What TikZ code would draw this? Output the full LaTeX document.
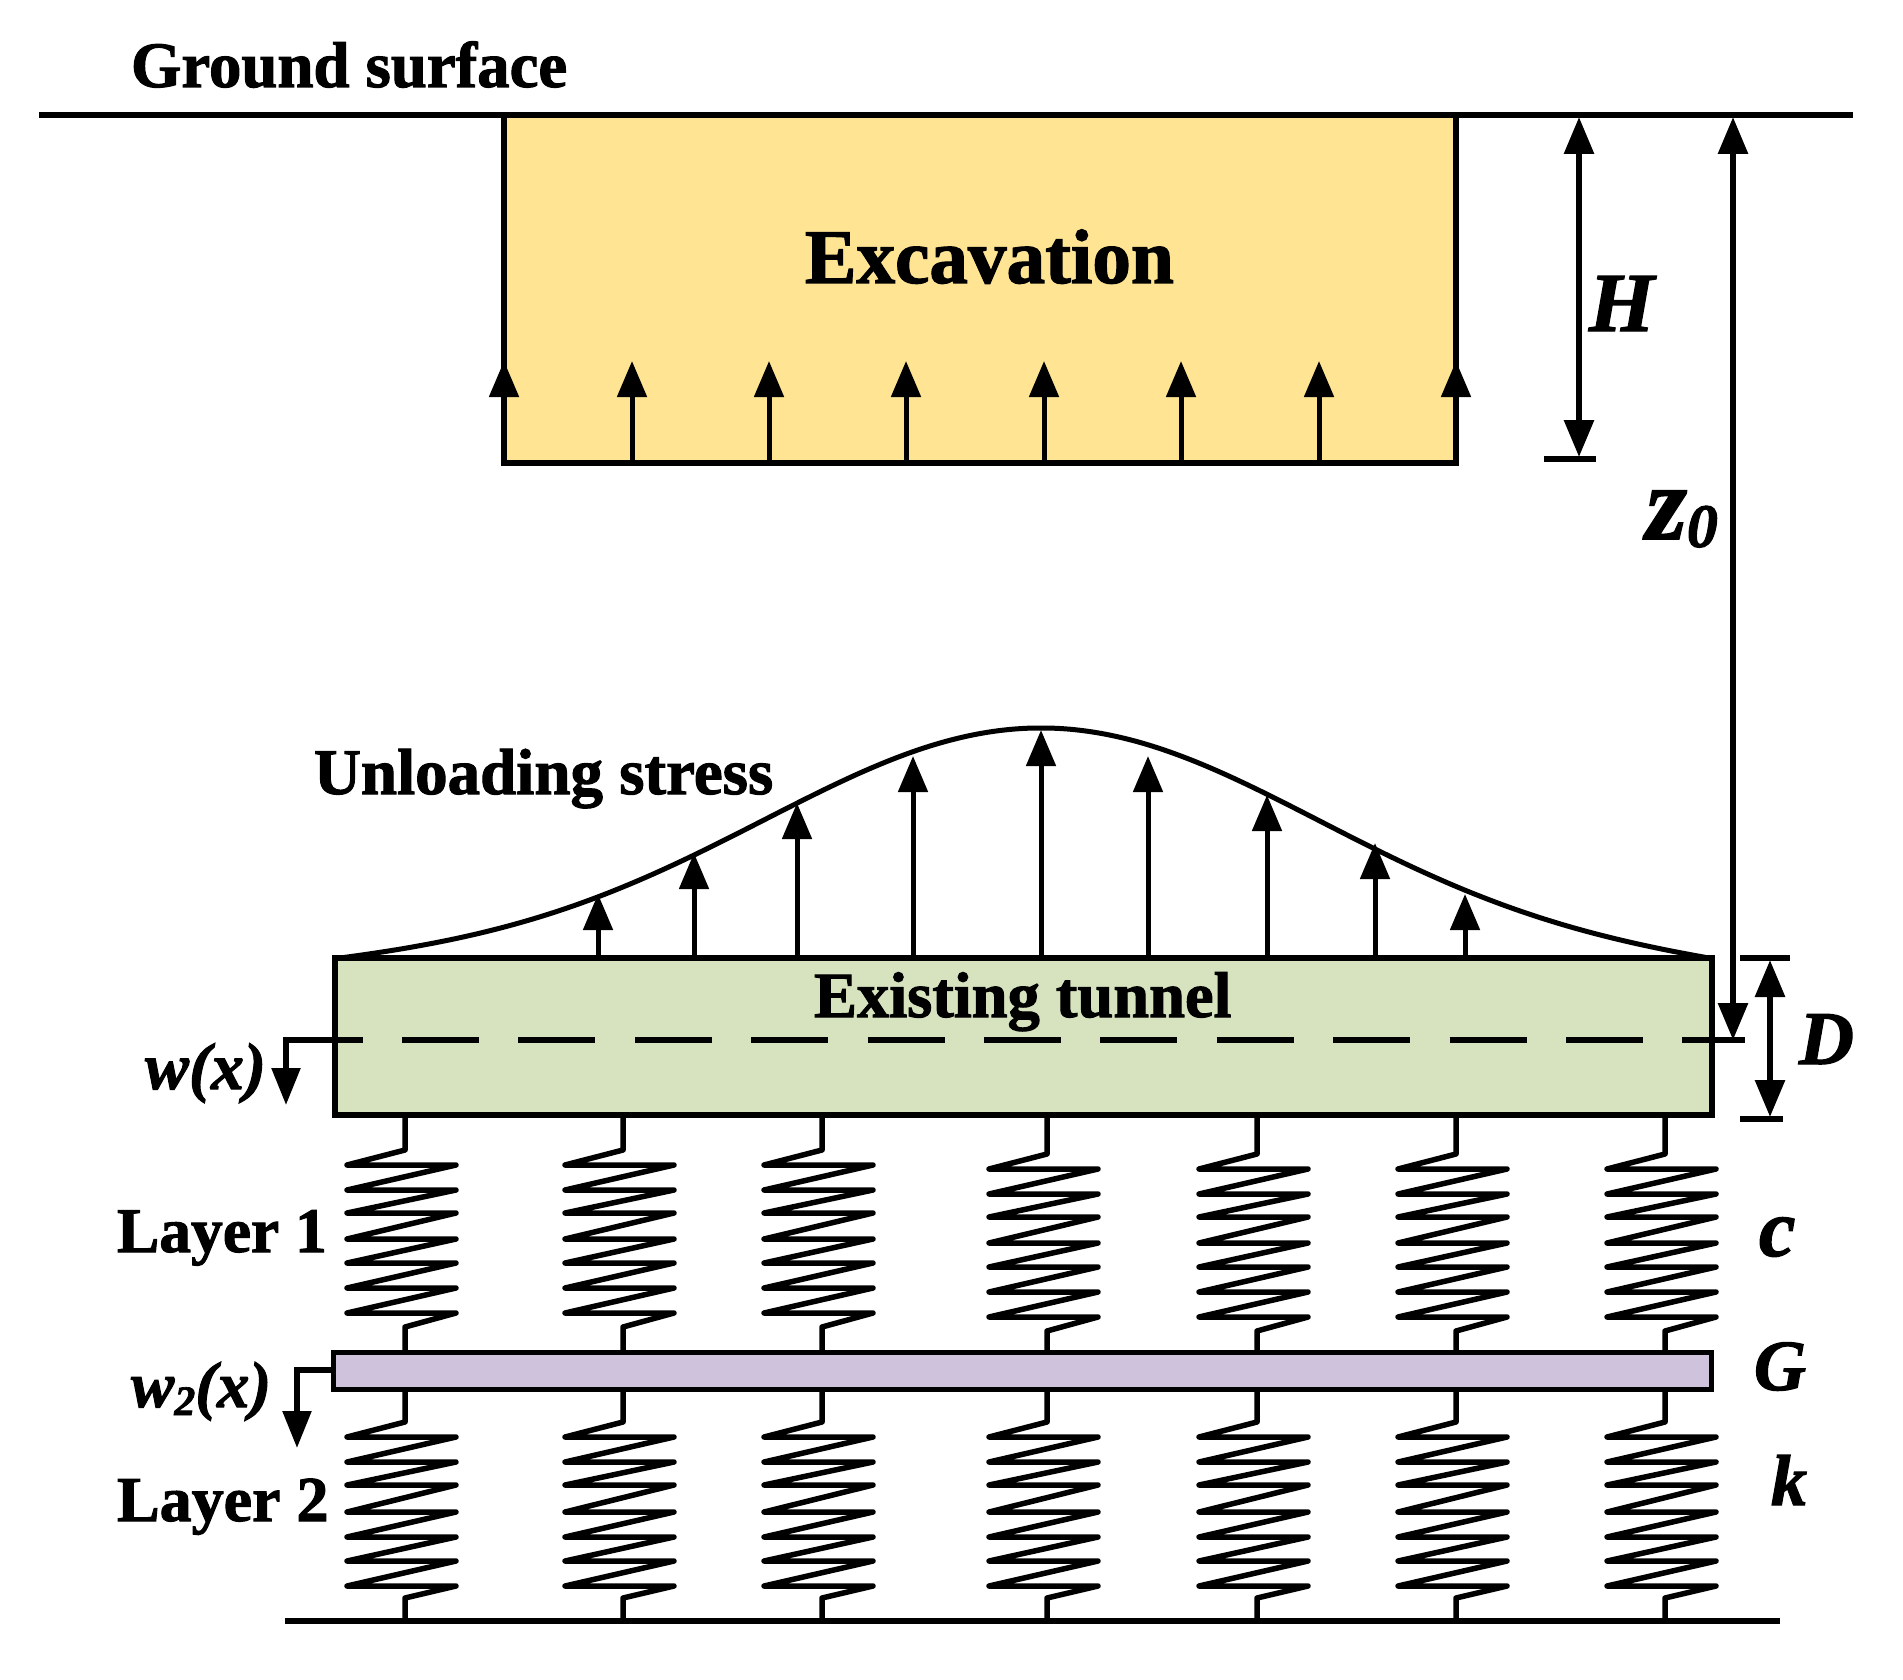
\documentclass[tikz,border=0pt]{standalone}
\usepackage{fontspec}
\setmainfont{Liberation Serif}[BoldFeatures={FakeBold=1.6},BoldItalicFeatures={FakeBold=1.6}]
\usetikzlibrary{arrows.meta,calc}
\definecolor{excfill}{HTML}{FEE493}
\definecolor{tunfill}{HTML}{D6E3BE}
\definecolor{purfill}{HTML}{CFC2DC}
\newcommand{\fsz}[1]{\fontsize{#1}{#1}\selectfont}
\tikzset{
  box/.style={draw=black,line width=6pt,inner sep=0pt,outer sep=0pt,anchor=north west},
  lbl/.style={inner sep=0pt,outer sep=0pt,anchor=base west,font=\bfseries,text=black},
  ilbl/.style={inner sep=0pt,outer sep=0pt,anchor=base west,font=\bfseries\itshape,text=black},
  hline/.style={line width=6pt,draw=black},
  tipup/.style={line width=5pt,draw=black,-{Triangle[length=36pt,width=29pt]}},
  dimline/.style={line width=6pt,draw=black,{Triangle[length=37pt,width=29pt]}-{Triangle[length=37pt,width=29pt]}},
  coilline/.style={line width=5.5pt,draw=black,line join=round},
  curveline/.style={line width=5pt,draw=black},
  axisline/.style={line width=5.5pt,draw=black,dash pattern=on 77pt off 39.4pt,dash phase=0pt},
  droparrow/.style={line width=5.5pt,draw=black,-{Triangle[length=37pt,width=28pt]}}
}
\begin{document}
\begin{tikzpicture}[x=1pt,y=-1pt]
\useasboundingbox (0,0) rectangle (1903,1680);
\fill[white] (0,0) rectangle (1903,1680);
% boxes
\node[box,fill=excfill,minimum width=952pt,minimum height=348pt] (exc) at (504,115) {};
\node[box,fill=tunfill,minimum width=1377pt,minimum height=157pt] (tun) at (335,958) {};
\node[box,fill=purfill,minimum width=1378pt,minimum height=37pt,line width=5pt] (pur) at (333,1352) {};
% ground lines
\coordinate (gl) at (39,115); \coordinate (gr) at (1853,115);
\draw[hline] (gl) -- (gr);
\coordinate (bl) at (285,1621); \coordinate (br) at (1780,1621);
\draw[hline] (bl) -- (br);
% excavation arrows
\foreach \i/\x in {1/504,2/632,3/769,4/906,5/1044,6/1181,7/1319,8/1456}{
  \coordinate (ea\i) at (\x,463); \coordinate (eb\i) at (\x,361);
  \draw[tipup] (ea\i) -- (eb\i);
}
% stress curve and arrows
\draw[curveline] plot[domain=-701:0,samples=70,smooth] ({\x+1041},{958-230*exp(0-(\x/388.2*\x/388.2))+8.8*\x/701*\x/701*\x/701*\x/701});
\draw[curveline] plot[domain=0:668,samples=70,smooth] ({\x+1041},{958-230*exp(0-(\x/388.2*\x/388.2))+11.9*\x/668*\x/668*\x/668*\x/668});
\foreach \i/\x/\y in {1/598/894,2/694/853,3/797/803,4/913/756,5/1041/730,6/1148/756,7/1267/795,8/1375/843,9/1465/894}{
  \coordinate (sa\i) at (\x,958); \coordinate (sb\i) at (\x,\y);
  \draw[tipup] (sa\i) -- (sb\i);
}
% axis of the tunnel
\coordinate (axl) at (285.6,1040); \coordinate (axr) at (1745,1040);
\draw[axisline] (axl) -- (axr);
% springs
\foreach \i/\x/\o in {1/405/0,2/623/0,3/822/0,4/1047/4,5/1257/4,6/1456/4,7/1665/4}{
  \coordinate (ut\i) at (\x,1117); \coordinate (ub\i) at (\x,1352);
  \draw[coilline] (ut\i) -- (\x,{1150+\o}) -- ({\x-58},{1165+\o}) -- ({\x+51},{1165+\o})
    -- ({\x-58},{1190+\o}) -- ({\x+51},{1190+\o})
    -- ({\x-58},{1213+\o}) -- ({\x+51},{1213+\o})
    -- ({\x-58},{1239+\o}) -- ({\x+51},{1239+\o})
    -- ({\x-58},{1263+\o}) -- ({\x+51},{1263+\o})
    -- ({\x-58},{1288+\o}) -- ({\x+51},{1288+\o})
    -- ({\x-58},{1313+\o}) -- ({\x+51},{1313+\o})
    -- (\x,{1327+\o}) -- (ub\i);
  \coordinate (lt\i) at (\x,1389); \coordinate (lb\i) at (\x,1621);
  \draw[coilline] (lt\i) -- (\x,1422) -- ({\x-58},1437) -- ({\x+51},1437)
    -- ({\x-58},1462) -- ({\x+51},1462)
    -- ({\x-58},1485) -- ({\x+51},1485)
    -- ({\x-58},1512) -- ({\x+51},1512)
    -- ({\x-58},1537) -- ({\x+51},1537)
    -- ({\x-58},1561) -- ({\x+51},1561)
    -- ({\x-58},1586) -- ({\x+51},1586)
    -- (\x,1598) -- (lb\i);
}
% deflection arrows
\coordinate (wc) at (286,1040); \coordinate (we) at (286,1105);
\draw[droparrow] (tun.west |- wc) -- (wc) -- (we);
\coordinate (vs) at (333,1370); \coordinate (vc) at (297,1370); \coordinate (ve) at (297,1448);
\draw[droparrow] (vs) -- (vc) -- (ve);
% dimensions
\coordinate (ha) at (1579,117); \coordinate (hb) at (1579,457);
\draw[dimline] (ha) -- (hb);
\coordinate (hl) at (1544,459); \coordinate (hr) at (1596,459);
\draw[hline] (hl) -- (hr);
\coordinate (za) at (1733,117); \coordinate (zb) at (1733,1040);
\draw[dimline] (za) -- (zb);
\coordinate (da) at (1770,960); \coordinate (db) at (1770,1117);
\draw[dimline] (da) -- (db);
\coordinate (dtl) at (1740,958); \coordinate (dtr) at (1790,958);
\draw[hline] (dtl) -- (dtr);
\coordinate (dbl) at (1740,1119); \coordinate (dbr) at (1783,1119);
\draw[hline] (dbl) -- (dbr);
% labels
\node[lbl] (tground) at (131,87) {\fsz{64.8}Ground surface};
\node[lbl] (texc) at (805,283) {\fsz{77.2}Excavation};
\node[lbl] (tunl) at (314,794) {\fsz{65}Unloading stress};
\node[lbl] (ttun) at (814,1017) {\fsz{64.5}Existing tunnel};
\node[lbl] (tl1) at (117,1252) {\fsz{63.5}Layer 1};
\node[lbl] (tl2) at (117,1521) {\fsz{64}Layer 2};
\node[ilbl] (tw) at (145,1089) {\fsz{66}w(x)};
\node[ilbl] (tv) at (131,1407) {\fsz{65}w\raisebox{-8pt}{\fsz{42}2}(x)};
\node[ilbl] (tH) at (1589,331) {\fsz{84}H};
\node[ilbl] (tz) at (1646,539) {\fsz{105}z\raisebox{-8pt}{\fsz{62}0}};
\node[ilbl] (tD) at (1799,1064) {\fsz{76}D};
\node[ilbl] (tc) at (1759,1256) {\fsz{82}c};
\node[ilbl] (tG) at (1754,1390) {\fsz{72}G};
\node[ilbl] (tk) at (1771,1505) {\fsz{72}k};
\end{tikzpicture}
\end{document}
